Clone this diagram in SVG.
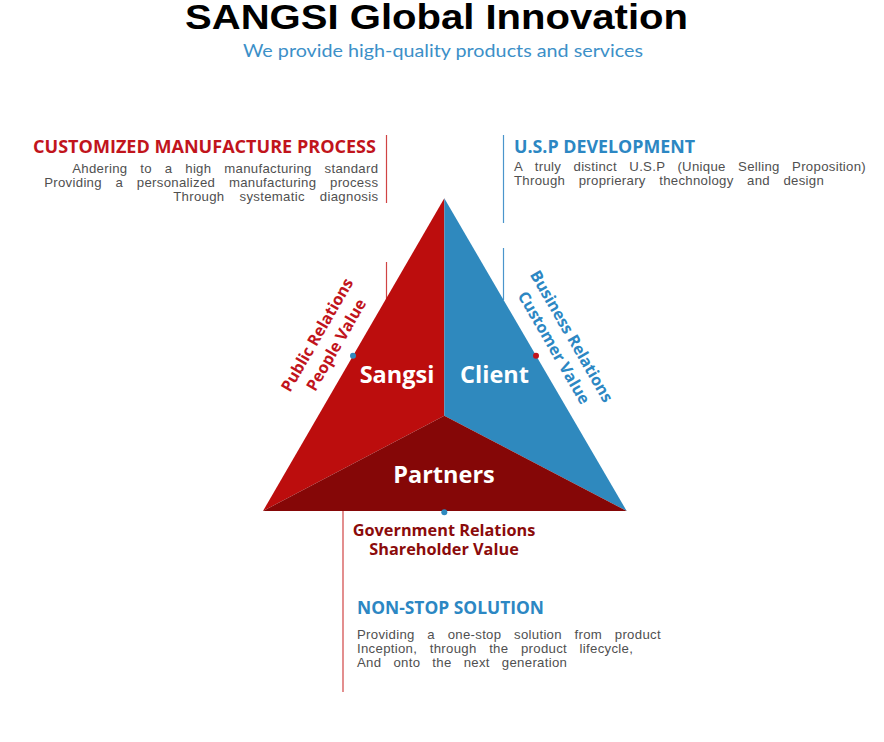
<svg xmlns="http://www.w3.org/2000/svg" width="884" height="742" viewBox="0 0 884 742">
<style>
.title{font-family:"Liberation Sans",Arial,sans-serif;font-weight:700;font-size:35px;fill:#000}
.sub{font-family:Lato,"Liberation Sans",sans-serif;font-size:18px;fill:#3c90c8}
.head{font-family:"Open Sans","Liberation Sans",sans-serif;font-weight:700;font-size:18px}
.body{font-family:"Liberation Sans",Arial,sans-serif;font-size:13.2px;letter-spacing:0.3px;fill:#505050}
.lbl{font-family:"Open Sans","Liberation Sans",sans-serif;font-weight:700;font-size:16px;text-anchor:middle}
.big{font-family:"Open Sans","Liberation Sans",sans-serif;font-weight:700;font-size:23.5px;fill:#fff;text-anchor:middle}
.red{fill:#c1141c}
.blue{fill:#2c87c3}
.dred{fill:#8b0b0b}
.lr{stroke:#d04444;stroke-width:1.2;fill:none}
.lb{stroke:#4a95cc;stroke-width:1.2;fill:none}
</style>
<rect width="884" height="742" fill="#fff"/>
<g id="header">
<text class="title" x="185" y="29" textLength="503" lengthAdjust="spacingAndGlyphs">SANGSI Global Innovation</text>
<text class="sub" x="243" y="56.5" textLength="400" lengthAdjust="spacingAndGlyphs">We provide high-quality products and services</text>
</g>
<g id="connectors">
<line class="lr" x1="386.5" y1="135" x2="386.5" y2="203"/>
<line class="lr" x1="386.5" y1="262" x2="386.5" y2="300"/>
<line class="lb" x1="503.5" y1="135" x2="503.5" y2="223"/>
<line class="lb" x1="503.5" y1="248" x2="503.5" y2="300"/>
<line class="lr" x1="343" y1="511" x2="343" y2="692"/>
</g>
<g id="triangle">
<g id="sangsi">
<polygon points="444.3,198.3 263,511 444.3,415.7" fill="#bc0d0d"/>
</g>
<g id="client">
<polygon points="444.3,198.3 626.7,511 444.3,415.7" fill="#2f89be"/>
</g>
<g id="partners">
<polygon points="263,511 626.7,511 444.3,415.7" fill="#850707"/>
</g>
<text class="big" x="397" y="383">Sangsi</text>
<text class="big" x="494.5" y="383">Client</text>
<text class="big" x="444" y="483">Partners</text>
<circle cx="353" cy="355.7" r="3" fill="#2f89be"/>
<circle cx="536" cy="355.7" r="3" fill="#c1141c"/>
<circle cx="444.3" cy="512.3" r="3" fill="#2f89be"/>
</g>
<g id="public-relations" transform="translate(353,355.7) rotate(-60)">
<text class="lbl red" x="0" y="-36">Public Relations</text>
<text class="lbl red" x="1" y="-14.5">People Value</text>
</g>
<g id="business-relations" transform="translate(536,355.7) rotate(60)">
<text class="lbl blue" x="1" y="-35">Business Relations</text>
<text class="lbl blue" x="2" y="-14">Customer Value</text>
</g>
<g id="government-relations">
<text class="lbl dred" x="444" y="535.5" style="font-size:16.3px">Government Relations</text>
<text class="lbl dred" x="444" y="554.5" style="font-size:16.3px">Shareholder Value</text>
</g>
<g id="customized-manufacture">
<text class="head red" x="33" y="153" textLength="343" lengthAdjust="spacingAndGlyphs">CUSTOMIZED MANUFACTURE PROCESS</text>
<text class="body" x="378.3" y="172.7" text-anchor="end" word-spacing="8.9">Ahdering to a high manufacturing standard</text>
<text class="body" x="378.3" y="186.7" text-anchor="end" word-spacing="9.7">Providing a personalized manufacturing process</text>
<text class="body" x="378.3" y="201" text-anchor="end" word-spacing="11.1">Through systematic diagnosis</text>
</g>
<g id="usp-development">
<text class="head blue" x="514" y="153" textLength="181" lengthAdjust="spacingAndGlyphs">U.S.P DEVELOPMENT</text>
<text class="body" x="514" y="171" word-spacing="8.4">A truly distinct U.S.P (Unique Selling Proposition)</text>
<text class="body" x="514" y="185" word-spacing="9.5">Through proprierary thechnology and design</text>
</g>
<g id="non-stop-solution">
<text class="head blue" x="357" y="613.5" textLength="187" lengthAdjust="spacingAndGlyphs">NON-STOP SOLUTION</text>
<text class="body" x="357" y="639.3" word-spacing="8.7">Providing a one-stop solution from product</text>
<text class="body" x="357" y="653.3" word-spacing="8.6">Inception, through the product lifecycle,</text>
<text class="body" x="357" y="667.3" word-spacing="8.1">And onto the next generation</text>
</g>
</svg>
